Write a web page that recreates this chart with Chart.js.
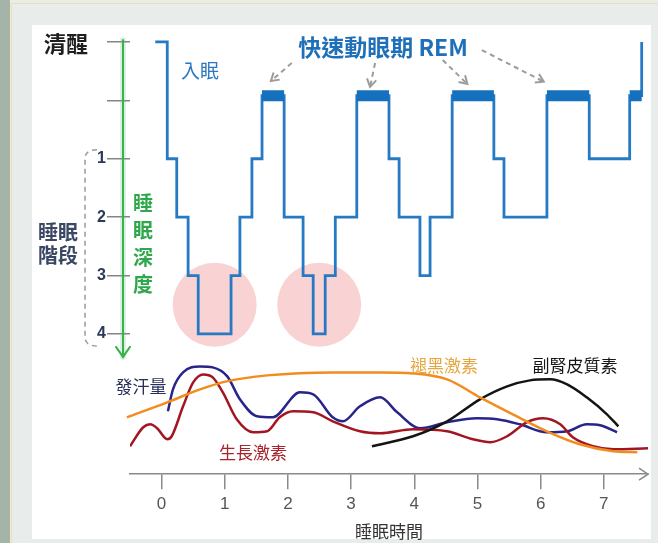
<!DOCTYPE html>
<html><head><meta charset="utf-8">
<script src="https://cdn.jsdelivr.net/npm/chart.js@4.4.1/dist/chart.umd.min.js"></script>
<style>
html,body{margin:0;padding:0;}
body{width:658px;height:543px;position:relative;overflow:hidden;background:#e8ecea;font-family:"Noto Sans CJK TC","Noto Sans",sans-serif;}
#strip{position:absolute;left:0;top:0;width:10px;height:543px;background:#a5b4a9;}
#vline{position:absolute;left:11px;top:3px;width:1px;height:540px;background:#efe2a6;}
#hline{position:absolute;left:11px;top:3px;width:647px;height:1px;background:#efe2a6;}
#panel{position:absolute;left:32px;top:25px;width:619px;height:514px;background:#fff;}
#c{position:absolute;left:0;top:0;}
.lbl{position:absolute;white-space:nowrap;line-height:1;transform:translate(-50%,-50%);font-family:"Noto Sans CJK TC","Noto Sans",sans-serif;z-index:2;}
</style></head><body>
<div id="strip"></div><div id="vline"></div><div id="hline"></div><div id="panel"></div>
<canvas id="c" width="658" height="543"></canvas>
<div class="lbl" style="left:66px;top:42px;font-size:22px;font-weight:bold;color:#1e1e1e;">清醒</div>
<div class="lbl" style="left:200px;top:69px;font-size:19px;color:#2a78c0;">入眠</div>
<div class="lbl" style="left:383px;top:46px;font-size:23px;font-weight:bold;color:#1f70b8;">快速動眼期 REM</div>
<div class="lbl" style="left:58px;top:243px;font-size:20px;font-weight:bold;color:#3a4865;line-height:23px;text-align:center;">睡眠<br>階段</div>
<div class="lbl" style="left:143px;top:243px;font-size:20px;font-weight:bold;color:#2ea84b;line-height:27px;text-align:center;">睡<br>眠<br>深<br>度</div>
<div class="lbl" style="left:141px;top:385px;font-size:17px;color:#27305a;">發汗量</div>
<div class="lbl" style="left:253px;top:451px;font-size:17px;color:#a8232b;">生長激素</div>
<div class="lbl" style="left:444px;top:364px;font-size:17px;color:#e6a640;">褪黑激素</div>
<div class="lbl" style="left:575px;top:364px;font-size:17px;color:#161616;">副腎皮質素</div>
<script>
// ---- Sleep stages (hypnogram): time (hours) where each stage begins ----
const hypnoHours  = [-0.10, 0.09, 0.24, 0.42, 0.58, 1.10, 1.24, 1.43, 1.59, 1.94, 2.24, 2.40, 2.59, 2.75, 3.09, 3.60, 3.76, 4.09, 4.25, 4.60, 5.26, 5.42, 6.10, 6.77, 7.41, 7.60];
const hypnoStages = ['W','S1','S2','S3','S4','S3','S2','S1','REM','S2','S3','S4','S3','S2','REM','S1','S2','S3','S2','REM','S1','S2','REM','S1','REM','W'];
const stageLevel = {W:0, REM:0.92, S1:2, S2:3, S3:4, S4:5};
const stageTickValues = [0, 1, 2, 3, 4, 5];
const stageTickLabels = ['', '', '1', '2', '3', '4'];

// ---- Time axis ----
const hourTicks = [0, 1, 2, 3, 4, 5, 6, 7];
const hourTickLabels = ['0', '1', '2', '3', '4', '5', '6', '7'];

// ---- Hormone / sweat curves (relative level) ----
const melatoninX = [-0.55, 0.09, 0.61, 1.03, 1.67, 2.71, 3.46, 3.98, 4.52, 5.04, 5.56, 6.10, 6.62, 7.15, 7.53];
const melatoninY = [57, 72, 85, 93, 99, 102, 102, 101, 95, 77, 60, 43, 30, 23, 22];
const sweatX = [0.10, 0.18, 0.34, 0.61, 0.81, 1.04, 1.24, 1.51, 1.76, 2.19, 2.40, 2.71, 2.87, 3.14, 3.46, 3.73, 4.09, 4.52, 4.99, 5.31, 5.67, 6.10, 6.42, 6.73, 6.94, 7.21];
const sweatY = [63, 85, 102, 108, 107, 98, 75, 58, 57, 82, 80, 57, 53, 68, 77, 62, 46, 52, 56, 55, 50, 42, 43, 50, 49, 42];
const growthX = [-0.50, -0.29, -0.18, -0.07, 0.09, 0.16, 0.34, 0.50, 0.66, 0.81, 0.97, 1.19, 1.45, 1.67, 1.87, 2.08, 2.40, 2.71, 3.14, 3.46, 3.98, 4.52, 4.93, 5.20, 5.47, 5.78, 6.04, 6.31, 6.51, 6.83, 7.15, 7.70];
const growthY = [28, 47, 50, 46, 35, 38, 68, 92, 100, 97, 82, 55, 42, 43, 57, 63, 62, 53, 43, 41, 45, 43, 35, 32, 38, 52, 56, 50, 37, 28, 25, 26];
const cortisolX = [3.33, 3.98, 4.52, 5.04, 5.47, 5.83, 6.15, 6.42, 6.73, 7.05, 7.23];
const cortisolY = [28, 38, 53, 75, 88, 94, 95, 90, 77, 60, 48];

const pts = (xs, ys) => xs.map((x, i) => ({x: x, y: ys[i]}));

const hypnoData = hypnoHours.map((h, i) => ({x: h, y: stageLevel[hypnoStages[i]]}));
const remData = [];
hypnoStages.forEach((s, i) => {
  if (s === 'REM' && i + 1 < hypnoHours.length) {
    remData.push({x: hypnoHours[i], y: stageLevel.REM});
    remData.push({x: hypnoHours[i + 1], y: stageLevel.REM});
    remData.push({x: hypnoHours[i + 1], y: null});
  }
});
// deep-sleep highlights: centre of each stage-4 episode
const deepData = [];
hypnoStages.forEach((s, i) => {
  if (s === 'S4') deepData.push({x: (hypnoHours[i] + hypnoHours[i + 1]) / 2, y: (stageLevel.S3 + stageLevel.S4) / 2});
});

const decor = {
  id: 'decor',
  beforeDatasetsDraw(chart) {
    const {ctx, chartArea: a, scales: {ys}} = chart;
    ctx.save();
    const gx = a.left - 7;
    const y0 = ys.getPixelForValue(0) - 2, y1 = ys.getPixelForValue(5) + 23;
    ctx.lineCap = 'round';
    ctx.strokeStyle = 'rgba(90,190,110,0.22)'; ctx.lineWidth = 6;
    ctx.beginPath(); ctx.moveTo(gx, y0); ctx.lineTo(gx, y1); ctx.stroke();
    ctx.strokeStyle = '#3cb04f'; ctx.lineWidth = 2;
    ctx.beginPath(); ctx.moveTo(gx, y0); ctx.lineTo(gx, y1); ctx.stroke();
    ctx.beginPath(); ctx.moveTo(gx - 7, y1 - 10); ctx.lineTo(gx, y1); ctx.lineTo(gx + 7, y1 - 10); ctx.stroke();
    // dashed bracket
    const bx = a.left - 45, bt = ys.getPixelForValue(2) - 9, bb = ys.getPixelForValue(5) + 12;
    ctx.strokeStyle = '#9a9a9a'; ctx.lineWidth = 1.5; ctx.setLineDash([5, 4]); ctx.lineCap = 'butt';
    ctx.beginPath();
    ctx.moveTo(bx + 12, bt); ctx.quadraticCurveTo(bx, bt, bx, bt + 9);
    ctx.lineTo(bx, bb - 9); ctx.quadraticCurveTo(bx, bb, bx + 12, bb);
    ctx.stroke();
    ctx.restore();
  },
  afterDraw(chart, args, opts) {
    const {ctx, chartArea: a, scales: {x, ys}} = chart;
    ctx.save();
    ctx.strokeStyle = '#8a8a8a'; ctx.lineWidth = 1.5;
    ctx.beginPath(); ctx.moveTo(a.right - 9, a.bottom - 6); ctx.lineTo(a.right, a.bottom); ctx.lineTo(a.right - 9, a.bottom + 6); ctx.stroke();
    ctx.strokeStyle = '#9c9c9c'; ctx.lineWidth = 2;
    opts.callouts.forEach(c => {
      const x0 = x.getPixelForValue(c.from[0]), y0 = ys.getPixelForValue(c.from[1]);
      const x1 = x.getPixelForValue(c.to[0]), y1 = ys.getPixelForValue(c.to[1]);
      ctx.setLineDash([5, 4]);
      ctx.beginPath(); ctx.moveTo(x0, y0); ctx.lineTo(x1, y1); ctx.stroke();
      ctx.setLineDash([]);
      const ang = Math.atan2(y1 - y0, x1 - x0), L = 9;
      ctx.beginPath();
      ctx.moveTo(x1 - L * Math.cos(ang - 0.55), y1 - L * Math.sin(ang - 0.55));
      ctx.lineTo(x1, y1);
      ctx.lineTo(x1 - L * Math.cos(ang + 0.55), y1 - L * Math.sin(ang + 0.55));
      ctx.stroke();
    });
    ctx.restore();
  }
};

const noPad = s => { s.paddingLeft = 0; s.paddingRight = 0; s.paddingTop = 0; s.paddingBottom = 0; };

const curve = (data, color, extra) => Object.assign({
  type: 'line', data: data, yAxisID: 'yh', borderColor: color, borderWidth: 2.5,
  pointRadius: 0, cubicInterpolationMode: 'monotone', fill: false, order: 1
}, extra || {});

new Chart(document.getElementById('c'), {
  type: 'line',
  data: {
    datasets: [
      {type: 'scatter', data: deepData, yAxisID: 'ys', pointRadius: 42, pointHoverRadius: 42,
       pointBackgroundColor: 'rgba(240,140,140,0.38)', pointBorderColor: 'rgba(0,0,0,0)', pointBorderWidth: 0,
       showLine: false, order: 10, clip: false},
      curve(pts(melatoninX, melatoninY), '#f28c1e', {clip: false}),
      curve(pts(cortisolX, cortisolY), '#141414'),
      curve(pts(growthX, growthY), '#a31621'),
      curve(pts(sweatX, sweatY), '#28258a'),
      {type: 'line', data: hypnoData, yAxisID: 'ys', stepped: 'before', borderColor: '#2679c3', borderWidth: 2.8,
       pointRadius: 0, borderJoinStyle: 'miter', fill: false, order: 0},
      {type: 'line', data: remData, yAxisID: 'ys', borderColor: '#1570be', borderWidth: 11, borderCapStyle: 'butt',
       pointRadius: 0, fill: false, spanGaps: false, order: -1}
    ]
  },
  options: {
    responsive: false, animation: false, events: [],
    layout: {autoPadding: false, padding: {top: 30, right: 10, bottom: 1, left: 0}},
    plugins: {
      legend: {display: false}, tooltip: {enabled: false},
      decor: {callouts: [
        {from: [2.06, 0.36], to: [1.73, 0.67]},
        {from: [3.38, 0.36], to: [3.30, 0.77]},
        {from: [4.45, 0.31], to: [4.84, 0.72]},
        {from: [5.07, 0.14], to: [6.05, 0.68]}
      ]}
    },
    scales: {
      x: {
        type: 'linear', position: 'bottom', min: -0.5, max: 7.7,
        afterBuildTicks: s => { s.ticks = hourTicks.map(v => ({value: v})); },
        afterFit: noPad,
        ticks: {callback: (v, i) => hourTickLabels[i], color: '#555', font: {size: 17, family: "'Liberation Sans', Arial, sans-serif"}, padding: 5, maxRotation: 0},
        grid: {drawOnChartArea: false, drawTicks: true, tickLength: 15, color: '#8a8a8a', lineWidth: 1.5},
        border: {display: true, color: '#8a8a8a', width: 1.5},
        title: {display: true, text: '睡眠時間', color: '#333', font: {size: 17, family: "'Noto Sans CJK TC', sans-serif"}, padding: {top: 2, bottom: 0}}
      },
      ys: {
        type: 'linear', position: 'left', reverse: true, min: -0.205, max: 7.402,
        afterBuildTicks: s => { s.ticks = stageTickValues.map(v => ({value: v})); },
        afterFit: s => { s.width = 130; noPad(s); },
        ticks: {callback: (v, i) => stageTickLabels[i], color: '#2c3a57', padding: 1, font: {size: 16, weight: 'bold', family: "'Liberation Sans', Arial, sans-serif"}},
        grid: {drawOnChartArea: false, drawTicks: true, tickLength: 23, color: '#858585', lineWidth: 1.5},
        border: {display: false}
      },
      yh: {type: 'linear', display: false, min: 0, max: 445, afterFit: noPad}
    }
  },
  plugins: [decor]
});
</script>
</body></html>
